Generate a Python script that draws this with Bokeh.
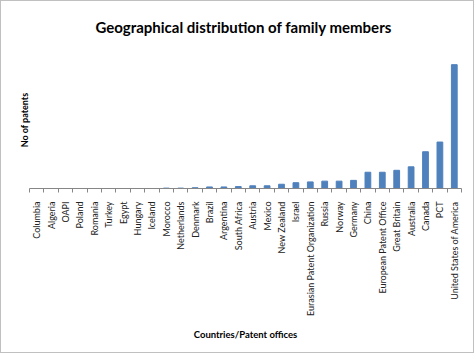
import math
from bokeh.plotting import figure
from bokeh.models import ColumnDataSource, FixedTicker, Range1d, Title
from bokeh.embed import file_html
from bokeh.resources import INLINE

countries = ["Columbia", "Algeria", "OAPI", "Poland", "Romania", "Turkey", "Egypt",
             "Hungary", "Iceland", "Morocco", "Netherlands", "Denmark", "Brazil",
             "Argentina", "South Africa", "Austria", "Mexico", "New Zealand", "Israel",
             "Eurasian Patent Organization", "Russia", "Norway", "Germany", "China",
             "European Patent Office", "Great Britain", "Australia", "Canada", "PCT",
             "United States of America"]
patents = [0, 0, 0, 0, 0, 0, 0, 0, 0, 1, 1, 2, 4, 4, 5, 7, 7, 11, 15, 17, 19, 19, 21,
           42, 42, 47, 56, 95, 120, 320]

FONT = "Lato"
BLUE = "#4F81BD"

n = len(countries)
centers = [i + 0.5 for i in range(n)]
bounds = [float(i) for i in range(n + 1)]

src = ColumnDataSource(dict(x=centers, top=patents, name=countries))

p = figure(width=474, height=353, output_backend="svg", toolbar_location=None,
           x_range=Range1d(0, n), y_range=Range1d(0, 354),
           min_border_left=28, min_border_right=14, min_border_top=50,
           min_border_bottom=166)
p.title = None
p.add_layout(Title(text="Geographical distribution  of family members", align="center",
                   vertical_align="top",
                   text_font=FONT, text_font_size="15px", text_font_style="bold",
                   text_color="#000000", standoff=28), "above")

p.vbar(x="x", top="top", width=0.4, source=src, color=BLUE)

p.grid.visible = False
p.outline_line_color = None
p.background_fill_color = "white"
p.border_fill_color = "white"

xa = p.xaxis[0]
xa.ticker = FixedTicker(ticks=centers, minor_ticks=bounds)
xa.major_label_overrides = {c: name for c, name in zip(centers, countries)}
xa.major_label_orientation = math.pi / 2
xa.major_label_text_font = FONT
xa.major_label_text_font_size = "9px"
xa.major_label_text_color = "#222222"
xa.major_tick_line_color = None
xa.major_label_standoff = 7
xa.minor_tick_line_color = "#868686"
xa.minor_tick_in = 0
xa.minor_tick_out = 4
xa.axis_line_color = "#868686"
xa.axis_label = "Countries/Patent offices"
xa.axis_label_text_font = FONT
xa.axis_label_text_font_size = "9.5px"
xa.axis_label_text_font_style = "bold"
xa.axis_label_text_color = "#000000"
xa.axis_label_standoff = 10

ya = p.yaxis[0]
ya.ticker = FixedTicker(ticks=[])
ya.axis_line_color = None
ya.major_tick_line_color = None
ya.minor_tick_line_color = None
ya.axis_label = "No of patents"
ya.axis_label_text_font = FONT
ya.axis_label_text_font_size = "9px"
ya.axis_label_text_font_style = "bold"
ya.axis_label_text_color = "#000000"
ya.axis_label_standoff = 0

p.styles = {"border": "1px solid #c0c0c0", "box-sizing": "border-box"}

open("out.html", "w").write(file_html(p, INLINE))
